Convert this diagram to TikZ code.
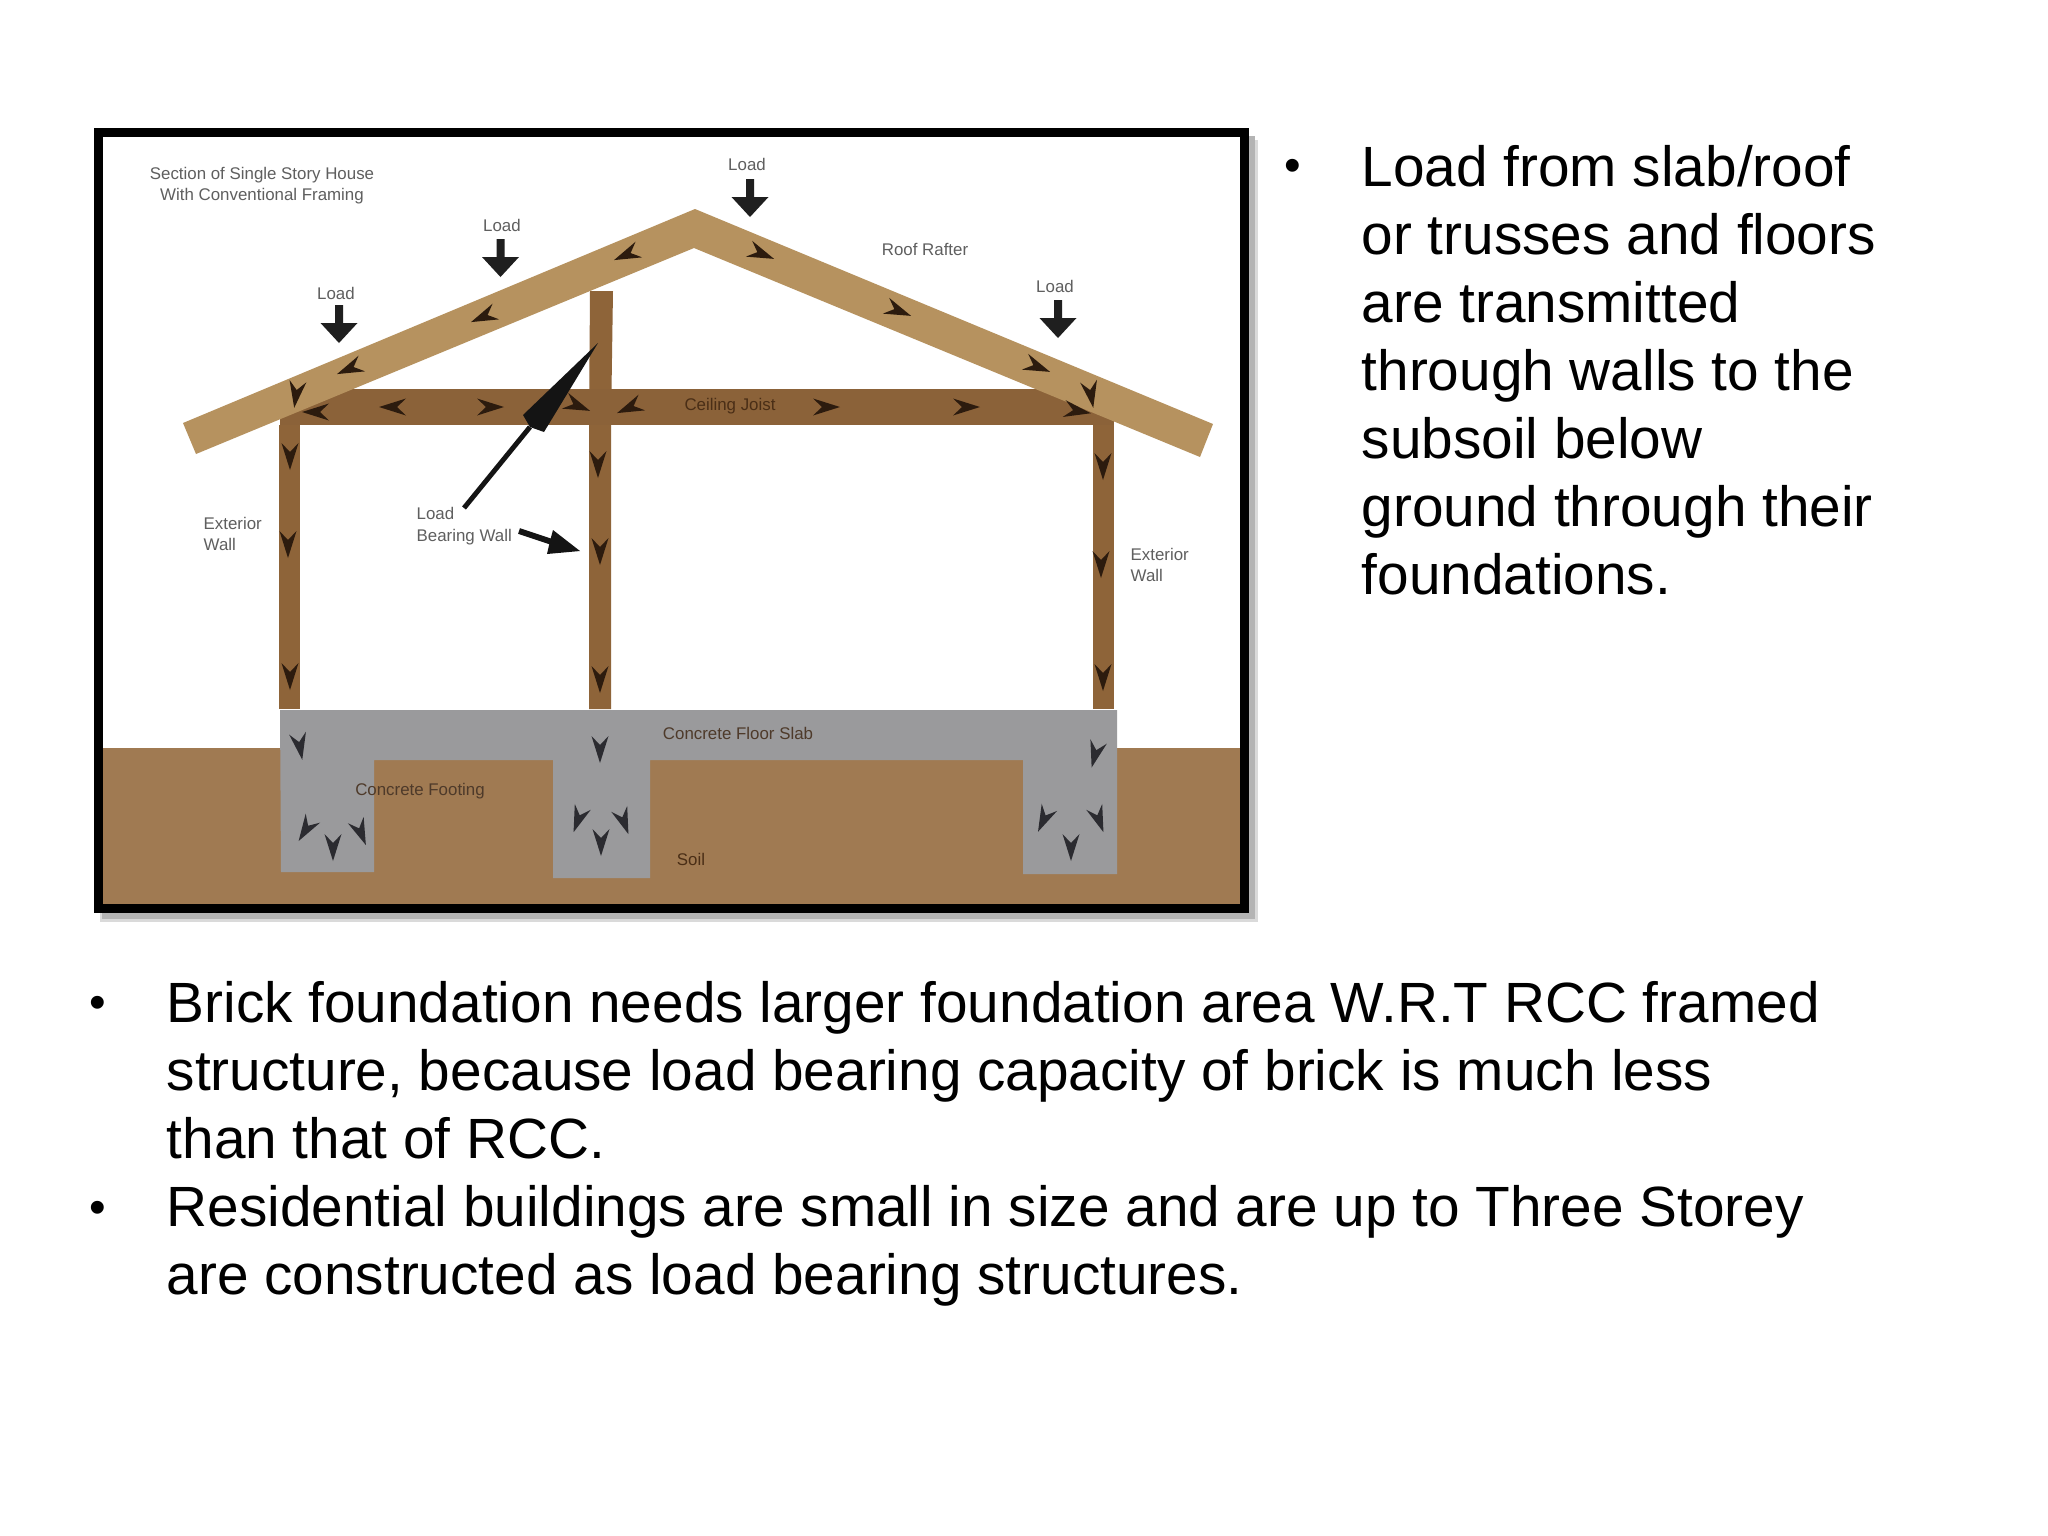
\documentclass[tikz,border=0pt]{standalone}
\usepackage{fontspec}
\setmainfont{Liberation Sans}
\definecolor{rafter}{HTML}{B6925F}
\definecolor{joist}{HTML}{8B6239}
\definecolor{wallc}{HTML}{8E6439}
\definecolor{concrete}{HTML}{9A9A9C}
\definecolor{soil}{HTML}{A07A52}
\definecolor{shadowc}{HTML}{B4B4B4}
\definecolor{chevw}{HTML}{2C1B0E}
\definecolor{chevc}{HTML}{2B2B30}
\definecolor{lblgrey}{HTML}{5F5F5F}
\definecolor{lbldark}{HTML}{4E3A2A}
\definecolor{lblbrown}{HTML}{4A2E16}
\tikzset{
  lbl/.style={inner sep=0pt,font=\fontsize{4.8}{6.05}\selectfont,text=lblgrey},
  lblleft/.style={lbl,align=left,anchor=west},
  body/.style={inner sep=0pt,anchor=north west,align=left,text=black,font=\fontsize{16.14}{19.36}\selectfont},
  bullet/.style={inner sep=0pt,anchor=north west,text=black,font=\fontsize{13.5}{16}\selectfont},
  chevwood/.style={fill=chevw},
  chevconc/.style={fill=chevc},
  pics/chev/.style={code={\path[pic actions] (13,0) -- (-14,8.5) -- (-5,0) -- (-14,-8.5) -- cycle;}},
  pics/loadarrow/.style={code={\fill[black!88] (-4,0) -- (4,0) -- (4,18) -- (18.5,18) -- (0,38) -- (-18.5,18) -- (-4,18) -- cycle;}},
  pointer/.style={line width=1.4pt,draw=black!92},
  pointerb/.style={line width=1.7pt,draw=black!92},
  pointerhead/.style={fill=black!92}
}
\begin{document}
\begin{tikzpicture}[x=0.01cm,y=-0.01cm]
\useasboundingbox (0,0) rectangle (2048,1536);
\fill[white] (0,0) rectangle (2048,1536);
% frame + shadow
\fill[shadowc!50] (100,140) rectangle (1258,922);
\fill[shadowc] (102,136) rectangle (1255,919);
\fill[black] (94,128) rectangle (1249,913);
\fill[white] (102.5,137) rectangle (1240,904);
% soil
\fill[soil] (102.5,748) -- (1240,748) -- (1240,904) -- (102.5,904) -- cycle;
% concrete slab and footings
\fill[concrete] (280,710) -- (1117,710) -- (1117,874) -- (1023,874) -- (1023,760) -- (650,760)
  -- (650,878) -- (553,878) -- (553,760) -- (374,760) -- (374,872) -- (281,872) -- cycle;
% walls
\fill[wallc] (279,425) rectangle (300,709);
\fill[wallc] (590,291) -- (613,291) -- (611,425) -- (611,709) -- (589,709) -- (589,425) -- cycle;
\fill[wallc] (1092.5,425) rectangle (1114,709);
% joist
\fill[joist] (280,389) rectangle (1114,425);
% rafter
\fill[rafter] (183,423) -- (695,209) -- (1213,424) -- (1200,457) -- (694,248) -- (196,454) -- cycle;
% chevrons on wood
\foreach \x/\y/\a in {
  626/255/203, 483/317/203, 349/369/203, 296/395/262,
  315/412/180, 392/407/180, 491/407/0, 578/406/-22, 629/408/203,
  290/457/-90, 288/545/-90, 290/677/-90,
  598/465/-90, 600/552/-90, 600/680/-90,
  1103/467/-90, 1101/565/-90, 1103/678/-90,
  762/254/-22, 899/311/-22, 1038/367/-22, 1091/395/-80, 1078/411/-10,
  827/407/0, 967/407/0}
  \pic[chevwood,rotate=\a] at (\x,\y) {chev};
% chevrons on concrete
\foreach \x/\y/\a in {
  300/747/-80, 305.5/830/238, 333/848/-90, 361/833/-68,
  600/750/-90, 578/820/250, 624/822/-70, 601/843/-90,
  1095/755/255, 1043.5/820/245, 1099/820/-70, 1071/848/-90}
  \pic[chevconc,rotate=\a] at (\x,\y) {chev};
% load arrows
\pic at (339,305) {loadarrow};
\pic at (500.5,239) {loadarrow};
\pic at (750,179) {loadarrow};
\pic at (1058,300) {loadarrow};
% labels
\node[lbl,align=center] (title) at (262,185.5) {Section of Single Story House\\With Conventional Framing};
\node[lbl] (load1) at (336,293) {Load};
\node[lbl] (load2) at (502,225) {Load};
\node[lbl] (load3) at (747,164) {Load};
\node[lbl] (load4) at (1055,286) {Load};
\node[lbl] (roofrafter) at (925,249) {Roof Rafter};
\node[lbl,text=lblbrown] (ceiling) at (730,406) {Ceiling Joist};
\node[lblleft] (extl) at (203,534) {Exterior\\Wall};
\node[lblleft] (extr) at (1130,565) {Exterior\\Wall};
\node[lblleft] (lbw) at (416,526) {Load\\Bearing Wall};
\node[lbl,text=lbldark] (slab) at (738,733) {Concrete Floor Slab};
\node[lbl,text=lbldark] (footing) at (420,791) {Concrete Footing};
\node[lbl,text=lblbrown] (soillbl) at (691,859) {Soil};
% pointer arrows
\coordinate (ptA0) at (464,508);
\coordinate (ptA1) at (530,427);
\coordinate (ptB0) at (519,531);
\coordinate (ptB1) at (552,542);
\draw[pointer] (ptA0) -- (ptA1);
\fill[pointerhead] (598,343) -- (523,415) -- (530,427) -- (544,432) -- cycle;
\draw[pointerb] (ptB0) -- (ptB1);
\fill[pointerhead] (580,551) -- (553,530) -- (550,541) -- (547,554) -- cycle;
% text
\node[bullet] (b1) at (1284,159) {•};
\node[body] (t1) at (1361,144.5) {Load from slab/roof\\or trusses and floors\\are transmitted\\through walls to the\\subsoil below\\ground through their\\foundations.};
\node[bullet] (b2) at (89,996) {•};
\node[bullet] (b3) at (89,1201) {•};
\node[body] (t2) at (166,980.5) {Brick foundation needs larger foundation area W.R.T RCC framed\\structure, because load bearing capacity of brick is much less\\than that of RCC.\\Residential buildings are small in size and are up to Three Storey\\are constructed as load bearing structures.};
\end{tikzpicture}
\end{document}
